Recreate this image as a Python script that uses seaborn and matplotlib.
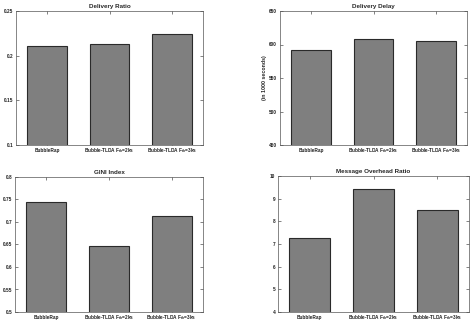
import matplotlib
matplotlib.use("Agg")
import matplotlib.pyplot as plt
import seaborn as sns
import pandas as pd

sns.set_theme(style="white")
plt.rcParams['font.family'] = ['Liberation Sans', 'DejaVu Sans']
plt.rcParams['mathtext.fontset'] = 'custom'
plt.rcParams['mathtext.rm'] = 'Liberation Sans:bold'
plt.rcParams['mathtext.bf'] = 'Liberation Sans:bold'
plt.rcParams['mathtext.it'] = 'Liberation Sans:bold'
plt.rcParams['mathtext.default'] = 'bf'

categories = ["BubbleRap", "Bubble-TLDA F$_{th}$=2ks", "Bubble-TLDA F$_{th}$=3ks"]
delivery_ratio = [0.2112, 0.2134, 0.2246]
delivery_delay = [591.3, 608.7, 605.7]
gini_index = [0.744, 0.647, 0.714]
overhead_ratio = [7.27, 9.44, 8.50]

panels = [
    ("Delivery Ratio", delivery_ratio, (0.1, 0.25), [0.1, 0.15, 0.2, 0.25], ["0.1", "0.15", "0.2", "0.25"], None),
    ("Delivery Delay", delivery_delay, (450, 650), [450, 500, 550, 600, 650], ["450", "500", "550", "600", "650"], "(in 1000 seconds)"),
    ("GINI Index", gini_index, (0.5, 0.8), [0.5, 0.55, 0.6, 0.65, 0.7, 0.75, 0.8],
     ["0.5", "0.55", "0.6", "0.65", "0.7", "0.75", "0.8"], None),
    ("Message Overhead Ratio", overhead_ratio, (4, 10), [4, 5, 6, 7, 8, 9, 10], ["4", "5", "6", "7", "8", "9", "10"], None),
]

# axes rectangles in pixel coords (left, top, right, bottom)
rects = [(16, 11, 203, 145), (280, 11, 467, 145), (15, 177, 203, 312), (278, 176, 469, 312)]
W, H = 474, 325
fig = plt.figure(figsize=(W / 100, H / 100), dpi=100)
fig.patch.set_facecolor("white")

for (title, vals, ylim, yt, ytl, ylabel), (l, t, r, b) in zip(panels, rects):
    ax = fig.add_axes([l / W, 1 - b / H, (r - l) / W, (b - t) / H])
    df = pd.DataFrame({"cat": categories, "val": vals})
    sns.barplot(data=df, x="cat", y="val", ax=ax, color="#7f7f7f", saturation=1,
                width=0.64, edgecolor="#2a2a2a", linewidth=0.8)
    ax.set_xlim(-0.5, 2.5)
    ax.set_ylim(*ylim)
    ax.set_yticks(yt)
    ax.set_yticklabels(ytl)
    ax.set_xlabel("")
    ax.set_ylabel(ylabel if ylabel else "", fontsize=3.8, fontweight="bold", labelpad=1.5)
    ax.set_title(title, fontsize=4.5, fontweight="bold", pad=2.5)
    ax.tick_params(axis="both", which="major", direction="in", length=2, width=0.4,
                   labelsize=3.4, top=True, right=True, bottom=True, left=True,
                   colors="#222222")
    ax.tick_params(axis="y", pad=2)
    ax.tick_params(axis="x", pad=4.8)
    for lab in ax.get_yticklabels():
        lab.set_fontweight("bold")
    for lab in ax.get_xticklabels():
        lab.set_fontweight("bold")
        lab.set_va("baseline")
    for s in ax.spines.values():
        s.set_linewidth(0.5)
        s.set_color("#555555")

fig.savefig("out.png", dpi=100, facecolor="white")
